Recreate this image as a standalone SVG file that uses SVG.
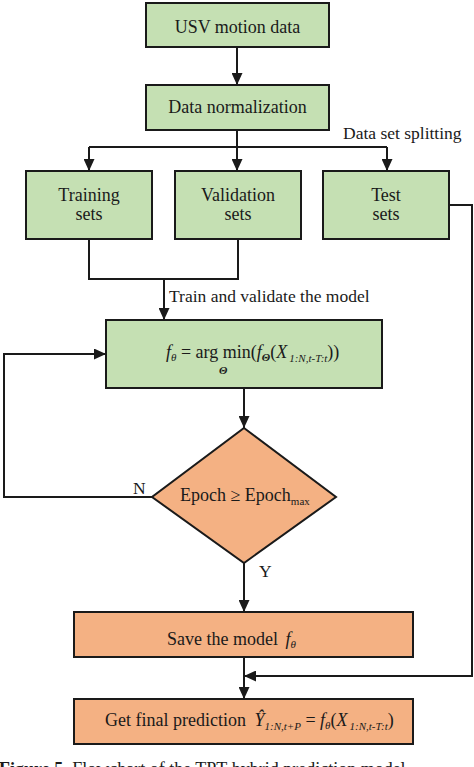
<svg xmlns="http://www.w3.org/2000/svg" width="474" height="767" viewBox="0 0 474 767">
<defs>
<style>
.g{fill:#c5e0b3;stroke:#1a1a1a;stroke-width:2}
.o{fill:#f4b183;stroke:#1a1a1a;stroke-width:2}
.t{font-family:"Liberation Serif",serif;font-size:18px;fill:#1a1a1a}
.l{font-size:17.5px}
.c{text-anchor:middle}
.i{font-style:italic}
.s{font-size:11px;font-style:italic}
.ln{fill:none;stroke:#1a1a1a;stroke-width:2}
</style>
<marker id="ah" markerUnits="userSpaceOnUse" markerWidth="12" markerHeight="11" refX="12" refY="5.5" orient="auto">
<path d="M0,0 L12,5.5 L0,11 z" fill="#1a1a1a"/>
</marker>
</defs>
<rect width="474" height="767" fill="#ffffff"/>
<g id="connectors">
<path class="ln" d="M237 48 V85" marker-end="url(#ah)"/>
<path class="ln" d="M237 130 V171" marker-end="url(#ah)"/>
<path class="ln" d="M89 147 H387"/>
<path class="ln" d="M89 147 V171" marker-end="url(#ah)"/>
<path class="ln" d="M387 147 V171" marker-end="url(#ah)"/>
<path class="ln" d="M89 239 V279 H238 V239"/>
<path class="ln" d="M164 279 V320" marker-end="url(#ah)"/>
<path class="ln" d="M449 205 H472 V676 H244" marker-end="url(#ah)"/>
<path class="ln" d="M244 388 V428" marker-end="url(#ah)"/>
<path class="ln" d="M152 497 H4 V354 H106" marker-end="url(#ah)"/>
<path class="ln" d="M244 563 V612" marker-end="url(#ah)"/>
<path class="ln" d="M244 657 V699" marker-end="url(#ah)"/>
<text class="t l" x="343" y="139">Data set splitting</text>
<text class="t l" x="169" y="302">Train and validate the model</text>
<text class="t l" x="133" y="494">N</text>
<text class="t l" x="259" y="577">Y</text>
</g>
<g id="usv">
<rect class="g" x="146" y="3" width="183" height="44"/>
<text class="t c" x="237.5" y="33">USV motion data</text>
</g>
<g id="norm">
<rect class="g" x="146" y="85" width="183" height="45"/>
<text class="t c" x="237.5" y="113">Data normalization</text>
</g>
<g id="training">
<rect class="g" x="26" y="171" width="126" height="68"/>
<text class="t c" x="89" y="201">Training</text>
<text class="t c" x="89" y="220">sets</text>
</g>
<g id="validation">
<rect class="g" x="175" y="171" width="126" height="68"/>
<text class="t c" x="238" y="201">Validation</text>
<text class="t c" x="238" y="220">sets</text>
</g>
<g id="test">
<rect class="g" x="323" y="171" width="126" height="68"/>
<text class="t c" x="386" y="201">Test</text>
<text class="t c" x="386" y="220">sets</text>
</g>
<g id="train">
<rect class="g" x="106" y="320" width="276" height="68"/>
<text class="t" x="166" y="358"><tspan class="i">f</tspan><tspan class="s" dy="3">θ</tspan><tspan dy="-3"> = arg min(</tspan><tspan class="i">f</tspan><tspan class="s" dy="3" font-weight="bold">Θ</tspan><tspan dy="-3">(</tspan><tspan class="i">X</tspan><tspan class="s" dy="4" dx="2">1:N,t-T:t</tspan><tspan dy="-4">))</tspan></text>
<text class="t s" x="219" y="374" font-weight="bold">Θ</text>
</g>
<g id="decision">
<polygon class="o" points="244,428 336,497 244,563 152,497"/>
<text class="t" x="180" y="501">Epoch ≥ Epoch<tspan font-size="11" dy="4">max</tspan></text>
</g>
<g id="save">
<rect class="o" x="74" y="612" width="339" height="45"/>
<text class="t" x="167" y="645">Save the model <tspan class="i" dx="3">f</tspan><tspan class="s" dy="3">θ</tspan></text>
</g>
<g id="final">
<rect class="o" x="74" y="699" width="339" height="45"/>
<text class="t" x="105" y="726">Get final prediction <tspan class="i" dx="4">Ŷ</tspan><tspan class="s" dy="4">1:N,t+P</tspan><tspan dy="-4"> = </tspan><tspan class="i">f</tspan><tspan class="s" dy="3">θ</tspan><tspan dy="-3">(</tspan><tspan class="i">X</tspan><tspan class="s" dy="4" dx="2">1:N,t-T:t</tspan><tspan dy="-4">)</tspan></text>
</g>
<text class="t" x="-1" y="775" font-size="16.5"><tspan font-weight="bold">Figure 5.</tspan> Flowchart of the TPT-hybrid prediction model</text>
</svg>
